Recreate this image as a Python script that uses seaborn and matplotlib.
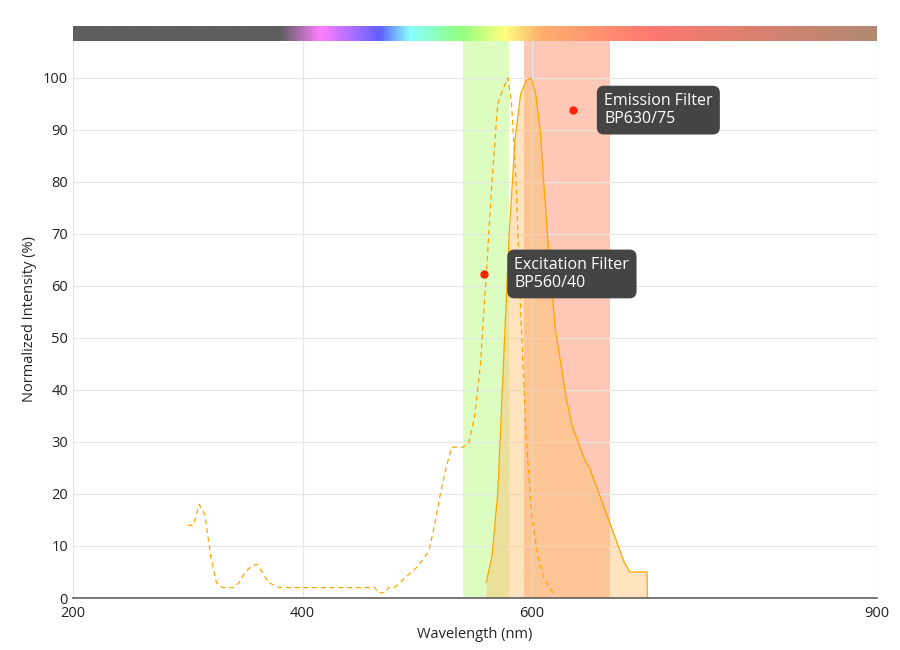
import numpy as np
import matplotlib.pyplot as plt
import seaborn as sns
from matplotlib.colors import LinearSegmentedColormap

# Anregungsspektrum (gestrichelt)
ex_nm = [300, 305, 310, 315, 320, 325, 330, 340, 345, 350, 355, 360, 365, 370, 380, 400, 430,
         463, 466, 472, 475, 480, 490, 500, 510, 515, 520, 525, 530, 540, 545, 550, 555, 560,
         565, 570, 575, 579, 582, 586, 590, 595, 600, 605, 610, 615, 620]
ex_val = [14, 14, 18, 16, 8, 3, 2, 2, 3, 5, 6, 6.5, 5, 3, 2, 2, 2,
          2, 1, 1, 2, 2, 4, 6, 9, 14, 20, 25, 29, 29, 30, 35, 45, 62,
          80, 95, 98, 100, 95, 80, 55, 30, 15, 8, 4, 2, 0.5]

# Emissionsspektrum (gefuellt)
em_nm = [560, 565, 570, 575, 580, 585, 590, 595, 599, 603, 607, 610, 615, 620, 625, 630, 635,
         640, 645, 650, 655, 660, 665, 670, 675, 680, 685, 690, 700, 700.5]
em_val = [3, 8, 20, 45, 70, 88, 97, 99.5, 100, 97, 90, 80, 65, 52, 45, 38, 33,
          30, 27, 25, 22, 19, 16, 13, 10, 7, 5, 5, 5, 0]

ex_band = (540, 580)
em_band = (592.5, 667.5)

spec_nm = [200, 380, 415, 467, 493, 537, 576, 607, 702, 900]
spec_col = ['#5e5e5e', '#5e5e5e', '#ff80ff', '#6060ff', '#88ffff', '#90ff80',
            '#ffff80', '#ffb070', '#ff7870', '#b08a70']

sns.set_theme(style='whitegrid')
plt.rcParams['font.family'] = ['Open Sans', 'DejaVu Sans']

fig = plt.figure(figsize=(9, 6.5), dpi=100)
ax = fig.add_axes([0.081, 0.08, 0.893, 0.857])
bar = fig.add_axes([0.081, 0.937, 0.893, 0.023])

ax.axvspan(*ex_band, color='#dcfcc0', lw=0, zorder=0)
ax.axvspan(*em_band, color='#fdc8b5', lw=0, zorder=0)

ax.fill_between(em_nm, em_val, color='#ffc070', alpha=0.45, lw=0, zorder=1)
sns.lineplot(x=em_nm, y=em_val, ax=ax, color='#ffa500', lw=0.9, zorder=2)
sns.lineplot(x=ex_nm, y=ex_val, ax=ax, color='#ffa500', lw=0.9, linestyle=(0, (4, 3)), zorder=2)

ax.set_xlim(200, 900)
ax.set_ylim(0, 107.1)
ax.set_xticks([200, 400, 600, 900])
ax.set_yticks(range(0, 101, 10))
ax.grid(color='#e6e6e6', lw=0.8)
for s in ['top', 'right', 'left']:
    ax.spines[s].set_visible(False)
ax.spines['bottom'].set_color('#666666')
ax.tick_params(labelsize=10.5, colors='#222222', length=0)
ax.tick_params(axis='x', pad=6)
ax.set_xlabel('Wavelength (nm)', fontsize=10.5)
ax.set_ylabel('Normalized Intensity (%)', fontsize=10.5)

box = dict(boxstyle='round,pad=0.45', fc='#444444', ec='none')
for x, y, txt in [(558, 62.3, 'Excitation Filter\nBP560/40'), (636, 93.8, 'Emission Filter\nBP630/75')]:
    ax.plot(x, y, 'o', color='#ff2200', ms=5, zorder=5)
    ax.annotate(txt, (x, y), xytext=(22, 0), textcoords='offset points', va='center',
                color='white', fontsize=11.5, bbox=box, zorder=6)

pos = [(n - 200) / 700 for n in spec_nm]
cmap = LinearSegmentedColormap.from_list('spec', list(zip(pos, spec_col)))
bar.imshow(np.linspace(0, 1, 512)[None, :], aspect='auto', cmap=cmap, extent=(200, 900, 0, 1))
bar.set_axis_off()

fig.savefig('out.png', dpi=100)
